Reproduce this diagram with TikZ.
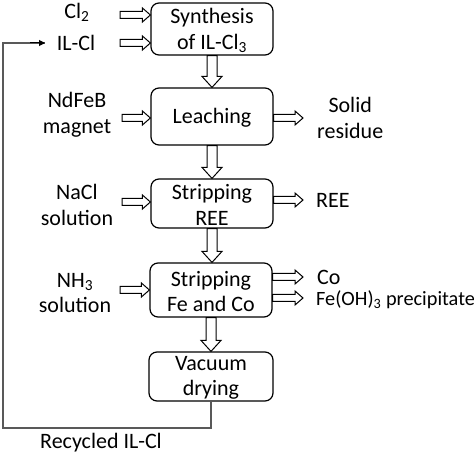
\documentclass[tikz,border=0pt]{standalone}
\usepackage{fontspec}
\setmainfont{Carlito}
\usetikzlibrary{calc,arrows.meta}
\newcommand{\harr}[2]{\draw[barrow] let \p1=(#1),\p2=(#2) in (\x1,\y1+3.5pt) -- (\x2-8pt,\y1+3.5pt) -- (\x2-8pt,\y1+7pt) -- (\x2,\y1) -- (\x2-8pt,\y1-7pt) -- (\x2-8pt,\y1-3.5pt) -- (\x1,\y1-3.5pt) -- cycle;}
\newcommand{\varr}[2]{\draw[barrow] let \p1=(#1),\p2=(#2) in (\x1-5pt,\y1) -- (\x1-5pt,\y2+11pt) -- (\x1-10pt,\y2+11pt) -- (\x1,\y2) -- (\x1+10pt,\y2+11pt) -- (\x1+5pt,\y2+11pt) -- (\x1+5pt,\y1) -- cycle;}
\begin{document}
\begin{tikzpicture}[x=1pt,y=-1pt,
  every node/.style={font=\fontsize{22}{25.5}\selectfont, inner sep=0pt, align=center},
  box/.style={draw, line width=1.2pt, rounded corners=8pt, minimum width=122pt},
  btext/.style={yshift=-1.5pt},
  barrow/.style={draw, fill=white, line width=1pt, line join=miter},
  recyc/.style={draw=black!65, line width=1.5pt}]
\useasboundingbox (0,0) rectangle (474,454);
% boxes
\node[box, minimum height=52pt] (syn) at (212,29) {};
\node[box, minimum height=57pt] (leach) at (212,116.5) {};
\node[box, minimum height=49pt] (ree) at (212,203.5) {};
\node[box, minimum height=54pt] (feco) at (211,290) {};
\node[box, minimum height=49pt, minimum width=124pt] (vac) at (211,376.5) {};
% box texts
\node[btext] (synt) at (syn) {Synthesis\\of IL-Cl\textsubscript{3}};
\node[btext] (leacht) at (leach) {Leaching};
\node[btext] (reet) at (ree) {Stripping\\REE};
\node[btext] (fecot) at (feco) {Stripping\\Fe and Co};
\node[btext] (vact) at (vac) {Vacuum\\drying};
% left labels
\node (cl2) at (77,12) {Cl\textsubscript{2}};
\node (ilcl) at (76,43) {IL-Cl};
\node (ndfeb) at (77,115) {NdFeB\\magnet};
\node (nacl) at (77,205) {NaCl\\solution};
\node (nh3) at (75,293) {NH\textsubscript{3}\\solution};
% right labels
\node[anchor=west] (solid) at (317,118) {Solid\\residue};
\node[anchor=west] (reeo) at (316,200) {REE};
\node[anchor=west] (co) at (317,277) {Co};
\node[anchor=west, font=\fontsize{20.3}{24}\selectfont] (feoh) at (316,300) {Fe(OH)\textsubscript{3} precipitate};
\node (recl) at (101,443) {Recycled IL-Cl};
% arrow coordinates
\coordinate (a1) at (120,15);
\coordinate (a2) at (120,43);
\coordinate (a3) at (122,118);
\coordinate (a4) at (122,202);
\coordinate (a5) at (120,290);
\coordinate (r1) at (303,118);
\coordinate (r2) at (303,200);
\coordinate (r3) at (303,277);
\coordinate (r4) at (303,298);
% left inputs
\harr{a1}{a1 -| syn.west}
\harr{a2}{a2 -| syn.west}
\harr{a3}{a3 -| leach.west}
\harr{a4}{a4 -| ree.west}
\harr{a5}{a5 -| feco.west}
% right outputs
\harr{r1 -| leach.east}{r1}
\harr{r2 -| ree.east}{r2}
\harr{r3 -| feco.east}{r3}
\harr{r4 -| feco.east}{r4}
% vertical flow
\varr{syn.south}{leach.north}
\varr{leach.south}{ree.north}
\varr{ree.south}{feco.north}
\varr{feco.south}{vac.north}
% recycle loop
\coordinate (rb) at (3,428);
\coordinate (rtip) at (45,43);
\draw[recyc] (vac.south) |- (rb) |- (rtip);
\draw[line width=1pt, -{Triangle[length=6pt,width=6pt]}] (30,43) -- (rtip);
\end{tikzpicture}
\end{document}
